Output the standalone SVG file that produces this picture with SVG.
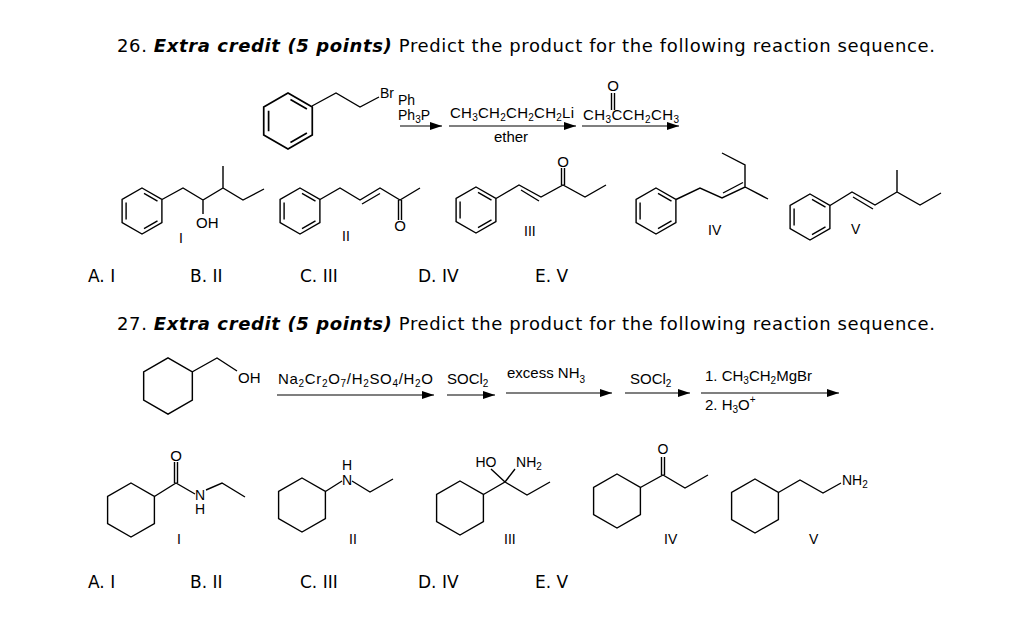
<svg xmlns="http://www.w3.org/2000/svg" xmlns:xlink="http://www.w3.org/1999/xlink" width="1022" height="631" viewBox="0 0 1022 631">
<style>
.b{fill:none;stroke:#000;stroke-width:1.4;stroke-linejoin:miter}
.t{font-family:"DejaVu Sans",Verdana,sans-serif;font-size:18px;fill:#000}
.a{font-family:"DejaVu Sans",Verdana,sans-serif;font-size:17px;fill:#000}
.c{font-family:"Liberation Sans",Arial,sans-serif;font-size:14px;fill:#000}
.r{font-size:15px}
.s{font-size:10px}
.ar{stroke:#000;stroke-width:1.2;fill:none}
</style>
<defs>
<marker id="ah" viewBox="0 0 12 8" refX="12" refY="4" markerWidth="12" markerHeight="8" markerUnits="userSpaceOnUse" orient="auto"><path d="M0,0L12,4L0,8z" fill="#000"/></marker>
<g id="bz" class="b"><polygon points="0,-23 19.9,-11.5 19.9,11.5 0,23 -19.9,11.5 -19.9,-11.5"/><path d="M-15.9,-8.5V8.5M2,-17.6L15.5,-9.8M15.5,9.8L2,17.6"/></g>
<g id="cy" class="b"><polygon points="0,-27 23.4,-13.5 23.4,13.5 0,27 -23.4,13.5 -23.4,-13.5"/></g>
</defs>
<text class="t" x="117" y="52" textLength="818" lengthAdjust="spacing"><tspan>26. </tspan><tspan font-weight="bold" font-style="italic">Extra credit (5 points)</tspan><tspan> Predict the product for the following reaction sequence.</tspan></text>
<g id="sm1"><use xlink:href="#bz" transform="translate(288,121) scale(1.22)"/><path class="b" d="M312,106L336,93L360,107L379,97"/><text class="c" x="380" y="98">Br</text></g>
<g id="conn">
<line class="ar" x1="400" y1="126" x2="442" y2="126" marker-end="url(#ah)"/>
<line class="ar" x1="449" y1="126" x2="576" y2="126" marker-end="url(#ah)" stroke-width="1.8"/>
<line class="ar" x1="582" y1="126" x2="679" y2="126" marker-end="url(#ah)"/>
<line class="ar" x1="277" y1="395" x2="434" y2="395" marker-end="url(#ah)" stroke-width="1.8"/>
<line class="ar" x1="447" y1="395" x2="495" y2="395" marker-end="url(#ah)"/>
<line class="ar" x1="506" y1="393" x2="612" y2="393" marker-end="url(#ah)"/>
<line class="ar" x1="625" y1="393" x2="690" y2="393" marker-end="url(#ah)"/>
<line class="ar" x1="701" y1="393" x2="839" y2="393" marker-end="url(#ah)"/>
</g>
<g id="r1labels">
<text class="c" x="398" y="105">Ph</text>
<text class="c" x="398" y="120">Ph<tspan class="s" dy="3">3</tspan><tspan dy="-3">P</tspan></text>
<text class="c r" x="450" y="118" textLength="124">CH<tspan class="s" dy="3">3</tspan><tspan dy="-3">CH</tspan><tspan class="s" dy="3">2</tspan><tspan dy="-3">CH</tspan><tspan class="s" dy="3">2</tspan><tspan dy="-3">CH</tspan><tspan class="s" dy="3">2</tspan><tspan dy="-3">Li</tspan></text>
<text class="c r" x="511" y="142" text-anchor="middle">ether</text>
<text class="c r" x="583" y="120" textLength="96">CH<tspan class="s" dy="3">3</tspan><tspan dy="-3">CCH</tspan><tspan class="s" dy="3">2</tspan><tspan dy="-3">CH</tspan><tspan class="s" dy="3">3</tspan></text>
<text class="c r" x="613" y="91" text-anchor="middle">O</text>
<path class="b" d="M611.5,93V110M614.5,93V110"/>
</g>
<g id="p1I"><use xlink:href="#bz" transform="translate(142,211)"/><path class="b" d="M162,199.5L183,188L203,200L223,188L243,200L264,189M223,188V166M203,200V214"/><text class="c r" x="196" y="228">OH</text><text class="c" x="179" y="243">I</text></g>
<g id="p1II"><use xlink:href="#bz" transform="translate(300,211)"/><path class="b" d="M320,199.5L340,188L360,200L380,188L400,200L420,188M362,204L380,193.5M398.5,200V220M401.5,200V220"/><text class="c r" x="400" y="231" text-anchor="middle">O</text><text class="c" x="342" y="241">II</text></g>
<g id="p1III"><use xlink:href="#bz" transform="translate(476,210)"/><path class="b" d="M496,198.5L519,185L541,197L563,185L585,197L606,185M521,190L539,201M561.5,185V168M564.5,185V168"/><text class="c r" x="563" y="167" text-anchor="middle">O</text><text class="c" x="524" y="236">III</text></g>
<g id="p1IV"><use xlink:href="#bz" transform="translate(656,211)"/><path class="b" d="M676,199.5L700,188L722,198L745,187L768,199M745,187V165L722,153M723,193L743,182.5"/><text class="c" x="708" y="235">IV</text></g>
<g id="p1V"><use xlink:href="#bz" transform="translate(810,217)"/><path class="b" d="M830,205.5L852,192L875,205L897,192L920,205L941,193M897,192V170M853,197L873,209"/><text class="c" x="851" y="234">V</text></g>
<g id="ans1">
<text class="a" x="88" y="282">A. I</text><text class="a" x="190" y="282">B. II</text><text class="a" x="300" y="282">C. III</text><text class="a" x="418" y="282">D. IV</text><text class="a" x="535" y="282">E. V</text>
</g>
<text class="t" x="117" y="330" textLength="818" lengthAdjust="spacing"><tspan>27. </tspan><tspan font-weight="bold" font-style="italic">Extra credit (5 points)</tspan><tspan> Predict the product for the following reaction sequence.</tspan></text>
<g id="sm2"><use xlink:href="#cy" transform="translate(168,386) scale(1.04)"/><path class="b" d="M192,372L217,358L237,371"/><text class="c r" x="238" y="383">OH</text></g>
<g id="r2labels">
<text class="c r" x="278" y="384" textLength="155">Na<tspan class="s" dy="3">2</tspan><tspan dy="-3">Cr</tspan><tspan class="s" dy="3">2</tspan><tspan dy="-3">O</tspan><tspan class="s" dy="3">7</tspan><tspan dy="-3">/H</tspan><tspan class="s" dy="3">2</tspan><tspan dy="-3">SO</tspan><tspan class="s" dy="3">4</tspan><tspan dy="-3">/H</tspan><tspan class="s" dy="3">2</tspan><tspan dy="-3">O</tspan></text>
<text class="c r" x="447" y="384">SOCl<tspan class="s" dy="3">2</tspan></text>
<text class="c r" x="507" y="378">excess NH<tspan class="s" dy="5">3</tspan></text>
<text class="c r" x="630" y="384">SOCl<tspan class="s" dy="3">2</tspan></text>
<text class="c r" x="705" y="381">1. CH<tspan class="s" dy="3">3</tspan><tspan dy="-3">CH</tspan><tspan class="s" dy="3">2</tspan><tspan dy="-3">MgBr</tspan></text>
<text class="c r" x="705" y="410">2. H<tspan class="s" dy="3">3</tspan><tspan dy="-3">O</tspan><tspan class="s" dy="-7">+</tspan></text>
</g>
<g id="p2I"><use xlink:href="#cy" transform="translate(131,510)"/><path class="b" d="M154.4,496.5L176,483L195,494M206,490L222,483L245,497M174.5,483V462M177.5,483V462"/><text class="c r" x="176" y="461" text-anchor="middle">O</text><text class="c" x="200" y="500" text-anchor="middle">N</text><text class="c" x="200" y="514" text-anchor="middle">H</text><text class="c" x="177" y="544">I</text></g>
<g id="p2II"><use xlink:href="#cy" transform="translate(302,505)"/><path class="b" d="M325.4,491.5L342,481M352,481L370,492L393,479"/><text class="c" x="347" y="485" text-anchor="middle">N</text><text class="c" x="347" y="470" text-anchor="middle">H</text><text class="c" x="349" y="544">II</text></g>
<g id="p2III"><use xlink:href="#cy" transform="translate(460,508)"/><path class="b" d="M483.4,494.5L505,482L527,495L550,482M505,482L491,469M505,482L515,469"/><text class="c" x="486" y="467" text-anchor="middle">HO</text><text class="c" x="529" y="467" text-anchor="middle">NH<tspan class="s" dy="3">2</tspan></text><text class="c" x="504" y="544">III</text></g>
<g id="p2IV"><use xlink:href="#cy" transform="translate(617,501)"/><path class="b" d="M640.4,487.5L663,475L685,488L708,475M661.5,475V457M664.5,475V457"/><text class="c" x="663" y="454" text-anchor="middle">O</text><text class="c" x="664" y="544">IV</text></g>
<g id="p2V"><use xlink:href="#cy" transform="translate(755,506)"/><path class="b" d="M778.4,492.5L800,480L823,493L841,483"/><text class="c" x="842" y="485">NH<tspan class="s" dy="3">2</tspan></text><text class="c" x="809" y="544">V</text></g>
<g id="ans2">
<text class="a" x="88" y="588">A. I</text><text class="a" x="190" y="588">B. II</text><text class="a" x="300" y="588">C. III</text><text class="a" x="418" y="588">D. IV</text><text class="a" x="535" y="588">E. V</text>
</g>
</svg>
